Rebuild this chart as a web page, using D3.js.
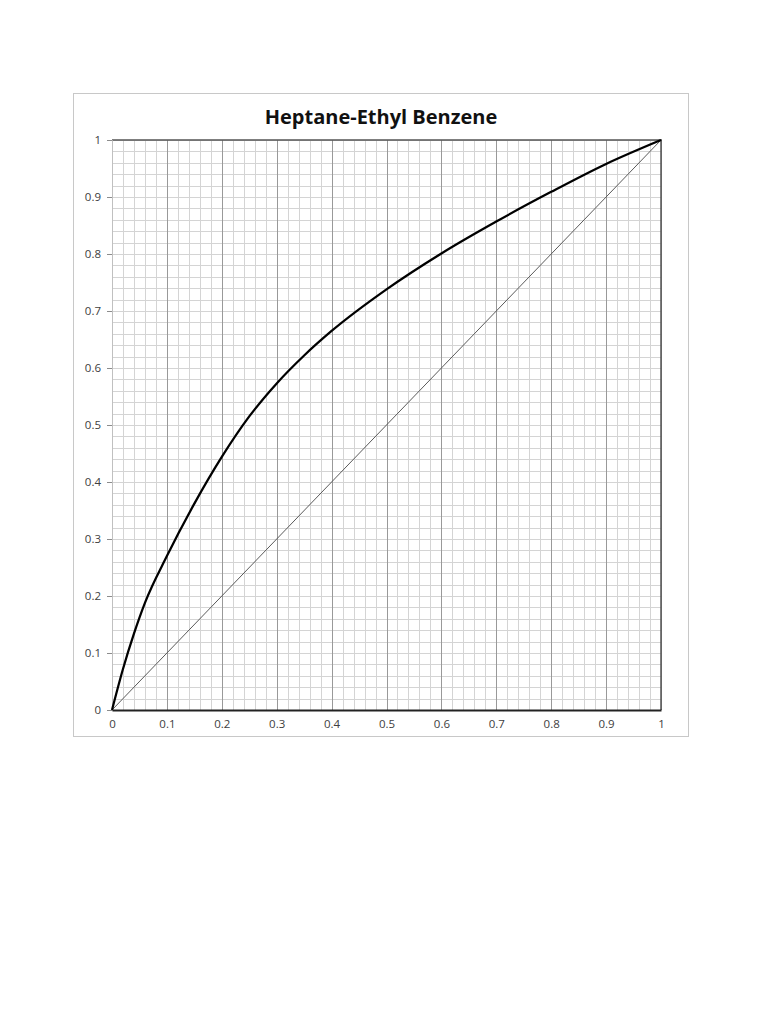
<!DOCTYPE html>
<html>
<head>
<meta charset="utf-8">
<script src="https://cdn.jsdelivr.net/npm/d3@7"></script>
<style>
  body { margin:0; background:#fff; }
  svg text { font-family: "Open Sans", "Liberation Sans", sans-serif; }
</style>
</head>
<body>
<svg id="chart" width="768" height="1024"></svg>
<script>
// equilibrium curve
var xVals=[0,0.02,0.04,0.06,0.1,0.15,0.2,0.25,0.3,0.35,0.4,0.5,0.6,0.7,0.8,0.9,1];
var yVals=[0,0.072,0.134,0.188,0.27,0.362,0.444,0.515,0.573,0.622,0.665,0.738,0.801,0.857,0.909,0.958,1];
// y = x reference line
var diagX=[0,1];
var diagY=[0,1];
var tickVals=[0,0.1,0.2,0.3,0.4,0.5,0.6,0.7,0.8,0.9,1];
var minorStep=0.02;
var title="Heptane-Ethyl Benzene";

var svg=d3.select("#chart");
var plot={"left":112,"right":661,"top":140,"bottom":710};

svg.append("rect").attr("width",768).attr("height",1024).attr("fill","#fff");
// chart area frame
svg.append("rect")
    .attr("x",73.5).attr("y",93.5).attr("width",615).attr("height",643)
    .attr("fill","#fff").attr("stroke","#c8c8c8").attr("stroke-width",1);

var x=d3.scaleLinear().domain([0,1]).range([plot.left,plot.right]);
var y=d3.scaleLinear().domain([0,1]).range([plot.bottom,plot.top]);

var minorTicks=d3.range(0,1+1e-9,minorStep).map(function (d) {return Math.round(d*100)/100});

//minor grid
var grid=svg.append("g").attr("id","grid");
grid.selectAll(".hminor").data(minorTicks).enter().append("line")
    .attr("x1",plot.left).attr("x2",plot.right)
    .attr("y1",function (d) {return Math.round(y(d))+0.5})
    .attr("y2",function (d) {return Math.round(y(d))+0.5})
    .attr("stroke","#d4d4d4").attr("stroke-width",1);
grid.selectAll(".vminor").data(minorTicks).enter().append("line")
    .attr("y1",plot.top).attr("y2",plot.bottom)
    .attr("x1",function (d) {return Math.round(x(d))+0.5})
    .attr("x2",function (d) {return Math.round(x(d))+0.5})
    .attr("stroke","#d4d4d4").attr("stroke-width",1);
//major vertical grid (darker)
grid.selectAll(".vmajor").data(tickVals).enter().append("line")
    .attr("y1",plot.top).attr("y2",plot.bottom)
    .attr("x1",function (d) {return Math.round(x(d))+0.5})
    .attr("x2",function (d) {return Math.round(x(d))+0.5})
    .attr("stroke","#999").attr("stroke-width",1);

// frame lines
svg.append("line").attr("x1",plot.left).attr("x2",plot.right+1).attr("y1",plot.top).attr("y2",plot.top)
    .attr("stroke","#555").attr("stroke-width",1.5);
svg.append("line").attr("x1",plot.right).attr("x2",plot.right).attr("y1",plot.top).attr("y2",plot.bottom)
    .attr("stroke","#555").attr("stroke-width",1.5);

// y axis
var yAxis=d3.axisLeft(y).tickValues(tickVals).tickSize(5).tickPadding(6)
    .tickFormat(function (d) {return d3.format("")(d)});
var yg=svg.append("g").attr("transform","translate("+plot.left+",0)").call(yAxis);
yg.select(".domain").attr("stroke","#c0c0c0");
yg.selectAll(".tick line").attr("stroke","#8c8c8c");
yg.selectAll("text").attr("fill","#404040").style("font-size","11.5px");

// x axis
var xAxis=d3.axisBottom(x).tickValues(tickVals).tickSize(0).tickPadding(10)
    .tickFormat(function (d) {return d3.format("")(d)});
var xg=svg.append("g").attr("transform","translate(0,"+plot.bottom+")").call(xAxis);
xg.select(".domain").attr("stroke","#222").attr("stroke-width",2);
xg.selectAll("text").attr("fill","#404040").style("font-size","11.5px");

// diagonal
var line=d3.line().x(function (d) {return x(d[0])}).y(function (d) {return y(d[1])});
svg.append("path")
    .datum(diagX.map(function (d,i) {return [d,diagY[i]]}))
    .attr("d",line).attr("fill","none").attr("stroke","#5a5a5a").attr("stroke-width",1);

// equilibrium curve
var curve=d3.line().x(function (d) {return x(d[0])}).y(function (d) {return y(d[1])})
    .curve(d3.curveMonotoneX);
svg.append("path")
    .datum(xVals.map(function (d,i) {return [d,yVals[i]]}))
    .attr("d",curve).attr("fill","none").attr("stroke","#000").attr("stroke-width",2.25)
    .attr("stroke-linejoin","round");

// title
svg.append("text").attr("x",381).attr("y",124).attr("text-anchor","middle")
    .style("font-size","20px").style("font-weight","bold").attr("fill","#111")
    .text(title);
</script>
</body>
</html>
